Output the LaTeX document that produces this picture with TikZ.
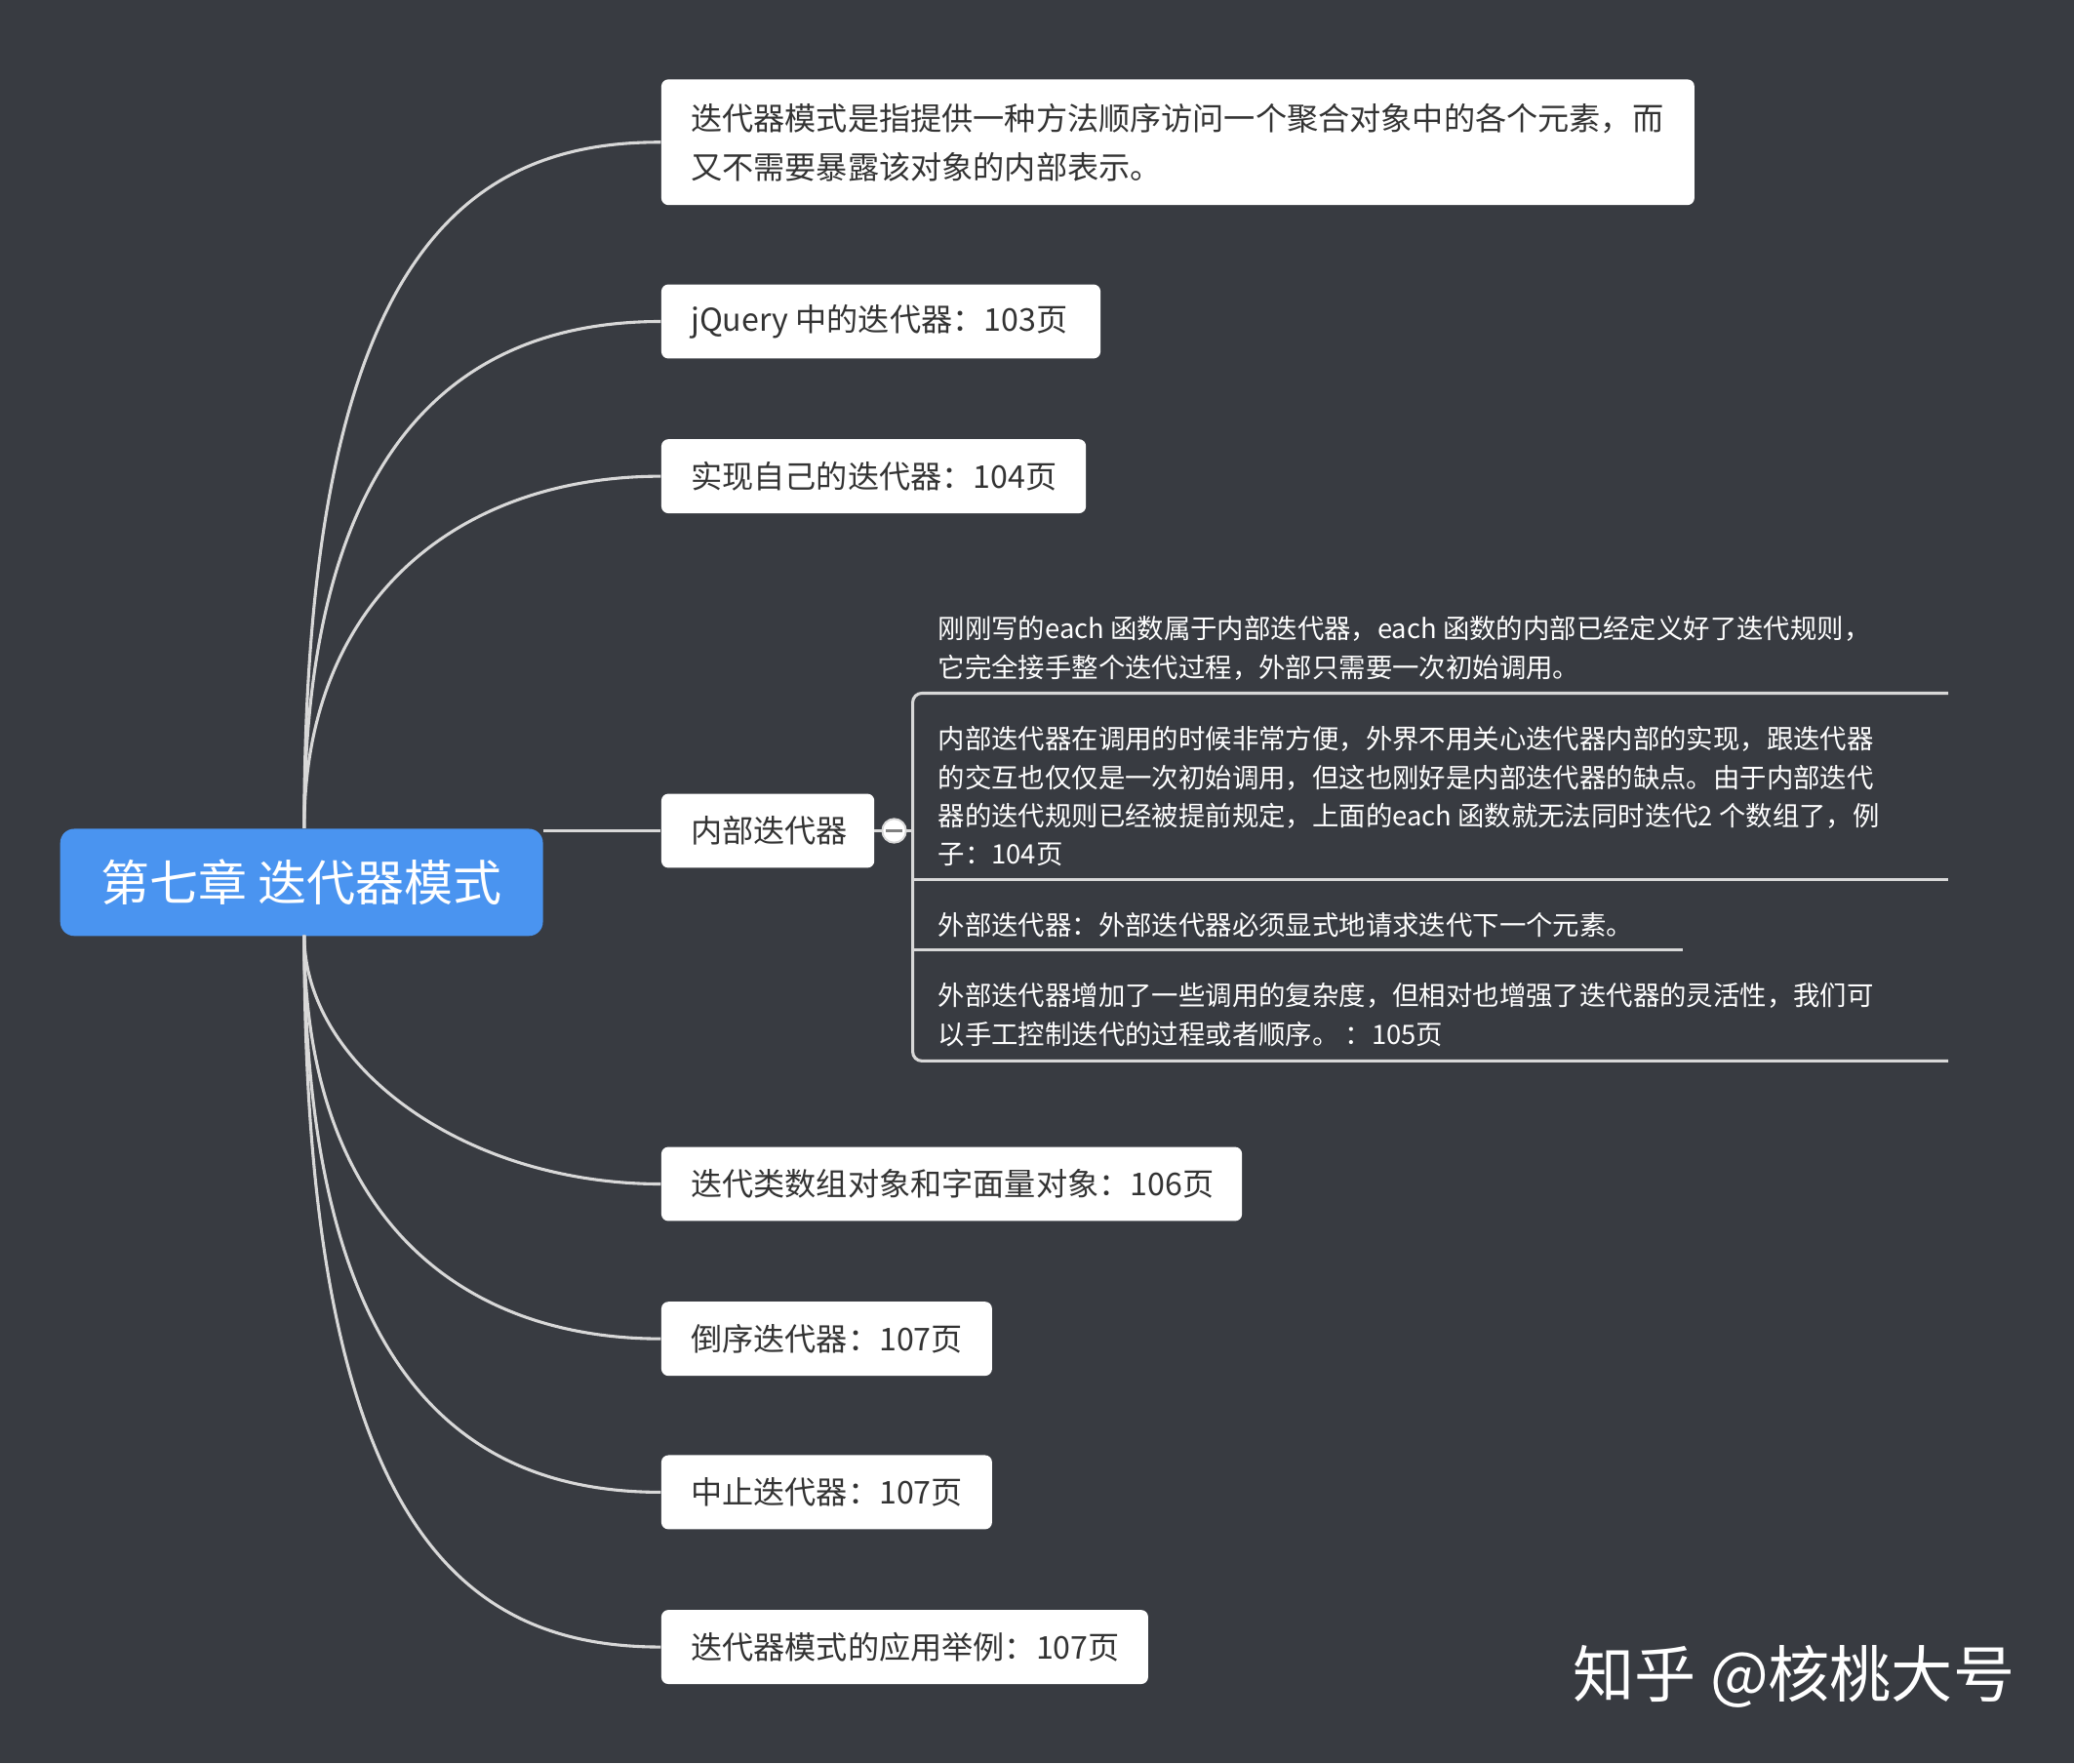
\documentclass[tikz,border=0pt]{standalone}
\usepackage{fontspec}
\setmainfont{Noto Sans CJK SC}
\definecolor{bg}{HTML}{383B41}
\definecolor{rootc}{HTML}{4A94F0}
\definecolor{txt}{HTML}{333333}
\definecolor{ln}{HTML}{D8D8D8}
\begin{document}
\begin{tikzpicture}[x=0.02cm,y=-0.02cm,
  box/.style={fill=white,rounded corners=3pt,inner sep=0pt,font=\fontsize{13.5}{21}\selectfont,text=txt,anchor=north west},
  sub/.style={anchor=west,text=white,font=\fontsize{11.5}{16.5}\selectfont,align=left,inner sep=0pt},
  conn/.style={draw=ln,line width=1.3pt}]
\fill[bg] (0,0) rectangle (1568,1333);
\useasboundingbox (0,0) rectangle (1568,1333);
\node[fill=rootc,rounded corners=6pt,text=white,minimum width=7.3cm,minimum height=1.62cm,font=\fontsize{21}{25}\selectfont] (root) at (228,667) {第七章 迭代器模式};
\coordinate (rt) at (230,626);
\coordinate (rb) at (230,707);
\newcommand{\bx}[6]{\path (500,#2) rectangle node[box,minimum width=#3*0.02cm-0pt,minimum height=#4*0.02cm,anchor=center] (#1) {} (500+#3,#2+#4);
 \node[anchor=west,text=txt,font=\fontsize{13.5}{21}\selectfont,align=left,inner sep=0pt] (#1t) at (522,#2+#4/2+#5) {#6};}
\bx{b1}{60}{781}{95}{0}{迭代器模式是指提供一种方法顺序访问一个聚合对象中的各个元素，而\\又不需要暴露该对象的内部表示。}
\bx{b2}{215}{332}{56}{0}{jQuery 中的迭代器：103页}
\bx{b3}{332}{321}{56}{0}{实现自己的迭代器：104页}
\bx{b4}{600}{161}{56}{0}{内部迭代器}
\bx{b5}{867}{439}{56}{0}{迭代类数组对象和字面量对象：106页}
\bx{b6}{984}{250}{56}{0}{倒序迭代器：107页}
\bx{b7}{1100}{250}{56}{0}{中止迭代器：107页}
\bx{b8}{1217}{368}{56}{0}{迭代器模式的应用举例：107页}
\foreach \n/\y in {b1/107,b2/243,b3/360}{
  \draw[conn] (rt) .. controls (230,\y+90) and (350,\y) .. (\n.west);}
\foreach \n/\y in {b5/895,b6/1012,b7/1128,b8/1245}{
  \draw[conn] (rb) .. controls (230,\y-90) and (350,\y) .. (\n.west);}
\draw[conn] (root.east|-0,628) -- (b4.west);
% sub items
\draw[conn,rounded corners=4pt] (1473,524) -- (690,524) -- (690,802) -- (1473,802);
\draw[conn] (690,665) -- (1473,665);
\draw[conn] (690,718) -- (1272,718);
\draw[conn] (661,628) -- (690,628);
\node[circle,fill=white,draw=ln,line width=0.8pt,minimum size=0.36cm,inner sep=0pt] (col) at (676,628) {};
\draw[gray,line width=1.3pt] (670,628) -- (682,628);
\node[sub] (s1) at (709,490) {刚刚写的each 函数属于内部迭代器，each 函数的内部已经定义好了迭代规则，\\它完全接手整个迭代过程，外部只需要一次初始调用。};
\node[sub] (s2) at (709,602) {内部迭代器在调用的时候非常方便，外界不用关心迭代器内部的实现，跟迭代器\\的交互也仅仅是一次初始调用，但这也刚好是内部迭代器的缺点。由于内部迭代\\器的迭代规则已经被提前规定，上面的each 函数就无法同时迭代2 个数组了，例\\子：104页};
\node[sub] (s3) at (709,699) {外部迭代器：外部迭代器必须显式地请求迭代下一个元素。};
\node[sub] (s4) at (709,767) {外部迭代器增加了一些调用的复杂度，但相对也增强了迭代器的灵活性，我们可\\以手工控制迭代的过程或者顺序。 ：105页};
\node[anchor=west,text=white,font=\fontsize{26.5}{30}\selectfont,inner sep=0pt] (wm) at (1189,1267) {知乎 @核桃大号};
\end{tikzpicture}
\end{document}
